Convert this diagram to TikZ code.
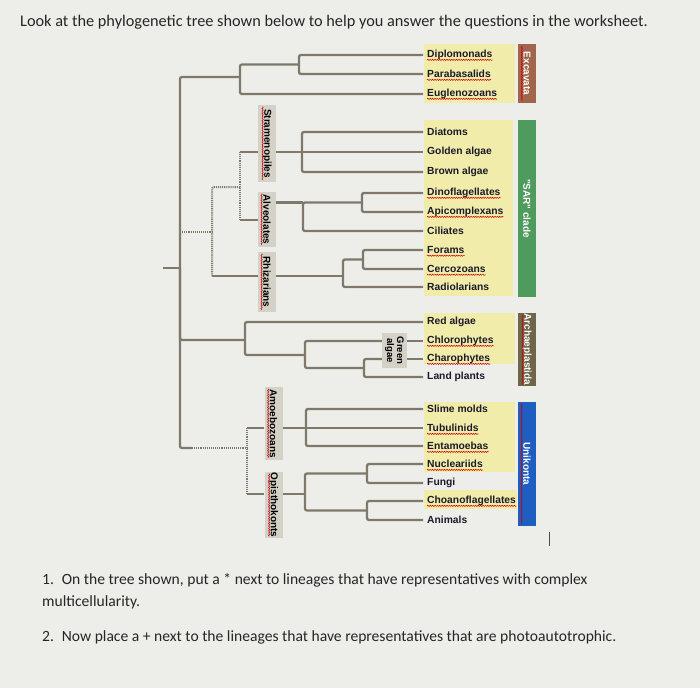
\documentclass[tikz,border=0pt]{standalone}
\usepackage{fontspec}
\setmainfont{Carlito}
\newfontfamily\arialfont{Liberation Sans}
\usetikzlibrary{positioning,decorations.pathmorphing}

\definecolor{paper}{HTML}{EDEDEA}
\definecolor{twig}{HTML}{7E796A}
\definecolor{hilite}{HTML}{F1ECA9}
\definecolor{cladegray}{HTML}{D4D1C7}
\definecolor{excavbrown}{HTML}{A0654A}
\definecolor{sargreen}{HTML}{4F9A5D}
\definecolor{archolive}{HTML}{6F6548}
\definecolor{unikblue}{HTML}{1F5EC1}
\definecolor{leafink}{HTML}{1A1A2A}
\definecolor{bodyink}{HTML}{262626}

\begin{document}
\begin{tikzpicture}[
  x=1pt, y=-1pt,
  branch/.style={draw=twig, line width=2.3pt, rounded corners=2pt},
  dots/.style={draw=twig, line width=2pt, dash pattern=on 1.1pt off 1pt, rounded corners=2pt},
  leaf/.style={anchor=west, inner xsep=4pt, inner ysep=1pt, text=leafink,
    font=\arialfont\bfseries\fontsize{10.3}{12}\selectfont},
  clade/.style={fill=cladegray, rotate=-90, minimum height=18pt, inner sep=1pt,
    font=\arialfont\bfseries\fontsize{10}{11}\selectfont},
  bar/.style={rotate=-90, minimum height=18pt, inner sep=1pt, text=white,
    font=\arialfont\bfseries\fontsize{10}{11}\selectfont},
  squig/.style={draw=red!80!black, line width=0.5pt, decorate,
    decoration={snake, amplitude=0.6pt, segment length=2.4pt}},
  prose/.style={anchor=west, text=bodyink, inner sep=0pt},
]
\useasboundingbox (0,0) rectangle (700,688);
\fill[paper] (0,0) rectangle (700,688);

% Heading
\node[prose, font=\fontsize{16.3}{20}\selectfont] (head) at (20,22)
  {Look at the phylogenetic tree shown below to help you answer the questions in the worksheet.};

% Yellow highlights behind the leaf names
\fill[hilite] (424,44) rectangle (515,103);
\fill[hilite] (424,120) rectangle (513,296);
\fill[hilite] (424,313) rectangle (515,364);
\fill[hilite] (424,402) rectangle (515,472);
\fill[hilite] (424,490) rectangle (517,509);

% Leaves
\node[leaf] (dipl) at (423,55) {Diplomonads};
\node[leaf] (para) at (423,74) {Parabasalids};
\node[leaf] (eugl) at (423,94) {Euglenozoans};
\node[leaf] (diat) at (423,132) {Diatoms};
\node[leaf] (gold) at (423,152) {Golden algae};
\node[leaf] (brown) at (423,172) {Brown algae};
\node[leaf] (dino) at (423,193) {Dinoflagellates};
\node[leaf] (apic) at (423,212) {Apicomplexans};
\node[leaf] (cili) at (423,231) {Ciliates};
\node[leaf] (foram) at (423,250) {Forams};
\node[leaf] (cerco) at (423,269) {Cercozoans};
\node[leaf] (radi) at (423,287) {Radiolarians};
\node[leaf] (red) at (423,322) {Red algae};
\node[leaf] (chlo) at (423,341) {Chlorophytes};
\node[leaf] (char) at (423,359) {Charophytes};
\node[leaf] (land) at (423,377) {Land plants};
\node[leaf] (slime) at (423,409) {Slime molds};
\node[leaf] (tubu) at (423,428) {Tubulinids};
\node[leaf] (enta) at (423,446) {Entamoebas};
\node[leaf] (nucl) at (423,464) {Nucleariids};
\node[leaf] (fungi) at (423,483) {Fungi};
\node[leaf] (choa) at (423,501) {Choanoflagellates};
\node[leaf] (anim) at (423,520) {Animals};

% Coloured group bars
\node[bar, fill=excavbrown, minimum width=59pt] (excbar) at (527,73.5) {Excavata};
\node[bar, fill=sargreen, minimum width=177pt] (sarbar) at (527,208.5) {"SAR" clade};
\node[bar, fill=archolive, minimum width=73pt] (archbar) at (527,349.5) {Archaeplastida};
\node[bar, fill=unikblue, minimum width=124pt] (unibar) at (527,464) {Unikonta};

% Clade labels
\node[clade, minimum width=77pt] (strlab) at (267,143.5) {Stramenopiles};
\node[clade, minimum width=55pt] (alvlab) at (267,219.5) {Alveolates};
\node[clade, minimum width=60pt] (rhilab) at (267,282) {Rhizarians};
\node[clade, minimum width=73pt] (amlab) at (273.5,423.5) {Amoebozoans};
\node[clade, minimum width=66pt] (oplab) at (273.5,505) {Opisthokonts};
\node[clade, minimum width=35pt, minimum height=25pt, align=center,
  font=\arialfont\bfseries\fontsize{9.5}{10}\selectfont] (grn) at (394.5,350.5) {Green\\algae};

% Inner nodes of the tree
\coordinate (stub) at (163,268);
\coordinate (root) at (180,268);
\coordinate (exc) at (240,77);
\coordinate (dp) at (299,64.5);
\coordinate (sar) at (212,232);
\coordinate (sa) at (240,187);
\coordinate (strin) at (240,152);
\coordinate (alvin) at (240,220);
\coordinate (rhin) at (212,276);
\coordinate (str) at (302,152);
\coordinate (alv) at (303,202.5);
\coordinate (dapi) at (362,202.5);
\coordinate (rz) at (343,276);
\coordinate (fc) at (363,259.5);
\coordinate (arch) at (245,340);
\coordinate (gp) at (305,355);
\coordinate (cl) at (364,368);
\coordinate (unkbend) at (192,448);
\coordinate (amin) at (247,428);
\coordinate (opin) at (247,494);
\coordinate (am) at (306,428);
\coordinate (op) at (305,494);
\coordinate (nf) at (367,473.5);
\coordinate (ca) at (367,510.5);

% Backbone
\draw[branch] (stub) -- (root);
\draw[branch] (exc) -| (root) |- (unkbend);
\draw[branch] (root) |- (arch);
\draw[dots] (root |- sar) -- (sar);
\draw[dots] (unkbend) -- (unkbend -| amin);

% Excavata
\draw[branch] (dp) -| (exc) |- (eugl.west);
\draw[branch] (dipl.west) -| (dp) |- (para.west);

% SAR
\draw[dots] (sa) -| (rhin);
\draw[dots] (strin) -- (alvin);
\draw[branch] (strin) -- (strin -| strlab.south);
\draw[branch] (strlab.north |- str) -- (str);
\draw[branch] (alvin) -- (alvin -| alvlab.south);
\draw[branch] (alvlab.north |- alv) -- (alv);
\draw[branch] (rhin) -- (rhin -| rhilab.south);
\draw[branch] (rhilab.north |- rz) -- (rz);
\draw[branch] (diat.west) -| (str) |- (brown.west);
\draw[branch] (str) -- (gold.west);
\draw[branch] (dapi) -- (alv) |- (cili.west);
\draw[branch] (dino.west) -| (dapi) |- (apic.west);
\draw[branch] (fc) -| (rz) |- (radi.west);
\draw[branch] (foram.west) -| (fc) |- (cerco.west);

% Archaeplastida
\draw[branch] (red.west) -| (arch) |- (gp);
\draw[branch] (chlo.west -| grn.south) -| (gp) |- (cl);
\draw[branch] (grn.north |- chlo.west) -- (chlo.west);
\draw[branch] (char.west -| grn.south) -| (cl) |- (land.west);
\draw[branch] (grn.north |- char.west) -- (char.west);

% Unikonta
\draw[dots] (amin) -- (opin);
\draw[branch] (amin) -- (amin -| amlab.south);
\draw[branch] (amlab.north |- am) -- (am);
\draw[branch] (slime.west) -| (am) |- (enta.west);
\draw[branch] (am) -- (tubu.west);
\draw[branch] (opin) -- (opin -| oplab.south);
\draw[branch] (oplab.north |- op) -- (op);
\draw[branch] (nf) -| (op) |- (ca);
\draw[branch] (nucl.west) -| (nf) |- (fungi.west);
\draw[branch] (choa.west) -| (ca) |- (anim.west);

% Spell-check marks
\foreach \n in {dipl,para,eugl,dino,apic,foram,cerco,chlo,char,tubu,enta,nucl,choa}
  \draw[squig] ([xshift=4pt,yshift=-2.2pt]\n.base west) -- ([xshift=-4pt,yshift=-2.2pt]\n.base east);
\foreach \n in {strlab,alvlab,rhilab,amlab,oplab,excbar,archbar,unibar}
  \draw[squig] ([xshift=-1.8pt,yshift=-2pt]\n.base west) -- ([xshift=-1.8pt,yshift=2pt]\n.base east);

% Cursor
\draw[gray!60!black, line width=0.8pt] (549,532) -- (549,546);

% Questions
\node[prose, font=\fontsize{15.6}{18}\selectfont] (q1) at (42,580)
  {1.\hspace{0.5em}On the tree shown, put a * next to lineages that have representatives with complex};
\node[prose, font=\fontsize{15.6}{18}\selectfont] (q1b) at (42,602) {multicellularity.};
\node[prose, font=\fontsize{15.6}{18}\selectfont] (q2) at (42,637)
  {2.\hspace{0.5em}Now place a + next to the lineages that have representatives that are photoautotrophic.};
\end{tikzpicture}
\end{document}
